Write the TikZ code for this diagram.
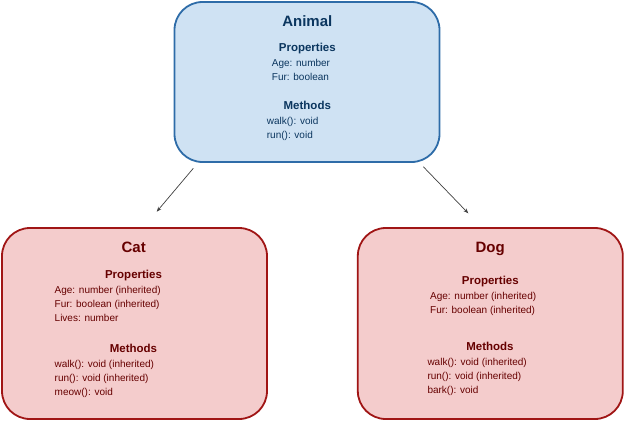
\documentclass[tikz,border=0pt]{standalone}
\usepackage{fontspec}
\setmainfont{Liberation Sans}
\usetikzlibrary{arrows.meta}
\definecolor{bluefill}{HTML}{CFE2F3}
\definecolor{blueline}{HTML}{2E6CA8}
\definecolor{bluetext}{HTML}{0B365F}
\definecolor{redfill}{HTML}{F4CCCC}
\definecolor{redline}{HTML}{A01515}
\definecolor{redtext}{HTML}{660000}
\definecolor{arrowcol}{HTML}{404040}
\tikzset{
  classbox/.style={draw, line width=1.8pt, rounded corners=28pt, inner sep=0pt},
  animalbox/.style={classbox, draw=blueline, fill=bluefill},
  childbox/.style={classbox, draw=redline, fill=redfill},
  titletext/.style={inner sep=0pt, anchor=base, font=\fontsize{15}{18}\selectfont\bfseries},
  headtext/.style={inner sep=0pt, anchor=base, font=\fontsize{11.5}{14}\selectfont\bfseries},
  bodytext/.style={inner sep=0pt, anchor=base west, font=\fontsize{10}{12}\selectfont},
  conn/.style={draw=arrowcol, line width=0.7pt, -{Stealth[length=5pt,width=3.8pt]}}
}
\begin{document}
\begin{tikzpicture}[x=1pt,y=-1pt]
\useasboundingbox (0,0) rectangle (624,421);

% Boxes
\node[animalbox, minimum width=265pt, minimum height=160pt] (animal) at (307,82) {};
\node[childbox, minimum width=265pt, minimum height=191pt] (cat) at (134.5,323.5) {};
\node[childbox, minimum width=265pt, minimum height=191pt] (dog) at (490.3,323.5) {};

% Animal text
\begin{scope}[text=bluetext]
\node[titletext] (at) at (307.3,26.5) {Animal};
\node[headtext] (ap) at (307.3,51.5) {Properties};
\node[bodytext] (a1) at (271.7,66.3) {Age: number};
\node[bodytext] (a2) at (271.7,80.6) {Fur: boolean};
\node[headtext] (am) at (307.3,109) {Methods};
\node[bodytext] (a3) at (266.7,124) {walk(): void};
\node[bodytext] (a4) at (266.7,138.3) {run(): void};
\end{scope}

% Cat text
\begin{scope}[text=redtext]
\node[titletext] (ct) at (133.7,252.7) {Cat};
\node[headtext] (cp) at (133.5,278.3) {Properties};
\node[bodytext] (c1) at (54.5,293.3) {Age: number (inherited)};
\node[bodytext] (c2) at (54.5,307.3) {Fur: boolean (inherited)};
\node[bodytext] (c3) at (54.5,321.3) {Lives: number};
\node[headtext] (cm) at (133.5,352.7) {Methods};
\node[bodytext] (c4) at (54.5,367.3) {walk(): void (inherited)};
\node[bodytext] (c5) at (54.5,381.3) {run(): void (inherited)};
\node[bodytext] (c6) at (54.5,395.6) {meow(): void};
\end{scope}

% Dog text
\begin{scope}[text=redtext]
\node[titletext] (dt) at (490.2,252.7) {Dog};
\node[headtext] (dp) at (490.3,284.3) {Properties};
\node[bodytext] (d1) at (430,299.3) {Age: number (inherited)};
\node[bodytext] (d2) at (430,313.3) {Fur: boolean (inherited)};
\node[headtext] (dm) at (490,350) {Methods};
\node[bodytext] (d3) at (427.3,365.6) {walk(): void (inherited)};
\node[bodytext] (d4) at (427.3,379.4) {run(): void (inherited)};
\node[bodytext] (d5) at (427.3,393.4) {bark(): void};
\end{scope}

% Connectors
\coordinate (s1) at (193.3,168.3);
\coordinate (e1) at (156.7,211.7);
\coordinate (s2) at (423.3,166.7);
\coordinate (e2) at (468.3,213.3);
\draw[conn] (s1) -- (e1);
\draw[conn] (s2) -- (e2);
\end{tikzpicture}
\end{document}
